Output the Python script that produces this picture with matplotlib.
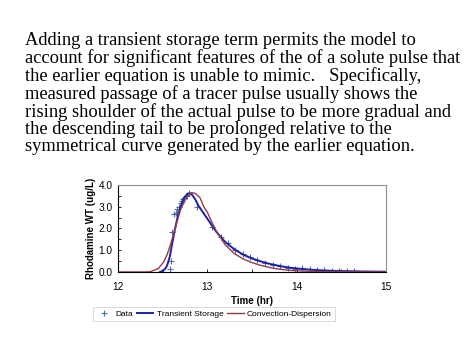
import numpy as np
import matplotlib
matplotlib.use("Agg")
import matplotlib.pyplot as plt
from matplotlib.ticker import MultipleLocator

# measured tracer data (hr, ug/L)
data_t = [12.49, 12.58, 12.59, 12.61, 12.63, 12.65, 12.66, 12.68, 12.70, 12.72,
          12.73, 12.74, 12.77, 12.80, 12.89, 13.05, 13.15, 13.23, 13.31, 13.40,
          13.48, 13.56, 13.65, 13.74, 13.82, 13.90, 13.98, 14.06, 14.15, 14.23,
          14.31, 14.40, 14.48, 14.56, 14.64]
data_c = [0.0, 0.12, 0.52, 1.85, 2.65, 2.7, 2.88, 3.0, 3.16, 3.28,
          3.35, 3.42, 3.5, 3.62, 3.0, 2.08, 1.62, 1.32, 1.01, 0.83,
          0.67, 0.55, 0.43, 0.32, 0.25, 0.17, 0.15, 0.17, 0.12, 0.10,
          0.08, 0.06, 0.05, 0.05, 0.04]

# transient storage model
ts_t = [12.47, 12.50, 12.53, 12.55, 12.58, 12.60, 12.63, 12.66, 12.70, 12.74,
        12.78, 12.80, 12.83, 12.87, 12.90, 12.95, 13.00, 13.05, 13.10, 13.20,
        13.30, 13.40, 13.50, 13.60, 13.70, 13.80, 13.90, 14.00, 14.10, 14.20,
        14.30, 14.40, 14.60, 14.80, 15.00]
ts_c = [0.0, 0.05, 0.15, 0.3, 0.7, 1.16, 1.8, 2.4, 3.0, 3.4,
        3.6, 3.62, 3.55, 3.3, 3.05, 2.75, 2.45, 2.15, 1.85, 1.38,
        1.05, 0.8, 0.62, 0.48, 0.37, 0.28, 0.21, 0.16, 0.12, 0.09,
        0.07, 0.05, 0.03, 0.02, 0.01]

# convection-dispersion model
cd_t = [12.00, 12.30, 12.36, 12.45, 12.51, 12.55, 12.58, 12.62, 12.66, 12.70,
        12.75, 12.80, 12.83, 12.87, 12.92, 12.96, 13.00, 13.05, 13.10, 13.20,
        13.30, 13.40, 13.50, 13.60, 13.70, 13.80, 13.90, 14.00, 14.20, 14.50, 15.00]
cd_c = [0.0, 0.0, 0.01, 0.15, 0.45, 0.8, 1.16, 1.7, 2.3, 2.85,
        3.3, 3.6, 3.65, 3.6, 3.4, 3.0, 2.75, 2.3, 1.88, 1.25,
        0.85, 0.6, 0.43, 0.3, 0.2, 0.13, 0.08, 0.05, 0.02, 0.005, 0.0]

body = ("Adding a transient storage term permits the model to\n"
        "account for significant features of the of a solute pulse that\n"
        "the earlier equation is unable to mimic.   Specifically,\n"
        "measured passage of a tracer pulse usually shows the\n"
        "rising shoulder of the actual pulse to be more gradual and\n"
        "the descending tail to be prolonged relative to the\n"
        "symmetrical curve generated by the earlier equation.")

fig = plt.figure(figsize=(4.74, 3.55), dpi=100)
fig.text(0.053, 0.91, body, family="Liberation Serif", fontsize=13.3,
         ha="left", va="top", linespacing=1.01)

ax = fig.add_axes([0.249, 0.234, 0.565, 0.245])
ax.plot(data_t, data_c, "+", color="#4a6fa5", ms=5, mew=0.8, label="Data")
ax.plot(ts_t, ts_c, color="#1c22a8", lw=1.4, label="Transient Storage")
ax.plot(cd_t, cd_c, color="#9a3a48", lw=1.0, label="Convection-Dispersion")

ax.set_xlim(12, 15)
ax.set_ylim(0, 4)
ax.xaxis.set_major_locator(MultipleLocator(1))
ax.xaxis.set_minor_locator(MultipleLocator(0.5))
ax.yaxis.set_major_locator(MultipleLocator(1))
ax.yaxis.set_minor_locator(MultipleLocator(0.5))
ax.yaxis.set_major_formatter(matplotlib.ticker.FormatStrFormatter("%.1f"))
ax.tick_params(which="both", direction="in", labelsize=7.3, length=2.5, width=0.6)
ax.tick_params(axis="x", pad=7)
ax.tick_params(axis="y", pad=4)
for s in ["top", "right"]:
    ax.spines[s].set_color("#909090")
for s in ax.spines.values():
    s.set_linewidth(0.8)
for lab in ax.get_xticklabels() + ax.get_yticklabels():
    lab.set_family("Liberation Sans")

ax.set_xlabel("Time (hr)", family="Liberation Sans", fontsize=7, fontweight="bold", labelpad=3)
ax.set_ylabel("Rhodamine WT (ug/L)", family="Liberation Sans", fontsize=7, fontweight="bold", labelpad=2)

leg = fig.legend(loc="center", bbox_to_anchor=(0.451, 0.115), ncol=3,
                 prop={"family": "Liberation Sans", "size": 6.0},
                 fancybox=False, edgecolor="#c8c8c8", handlelength=2.0,
                 columnspacing=0.4, handletextpad=0.4, borderpad=0.35)
leg.get_frame().set_linewidth(0.6)

fig.savefig("out.png", dpi=100)
